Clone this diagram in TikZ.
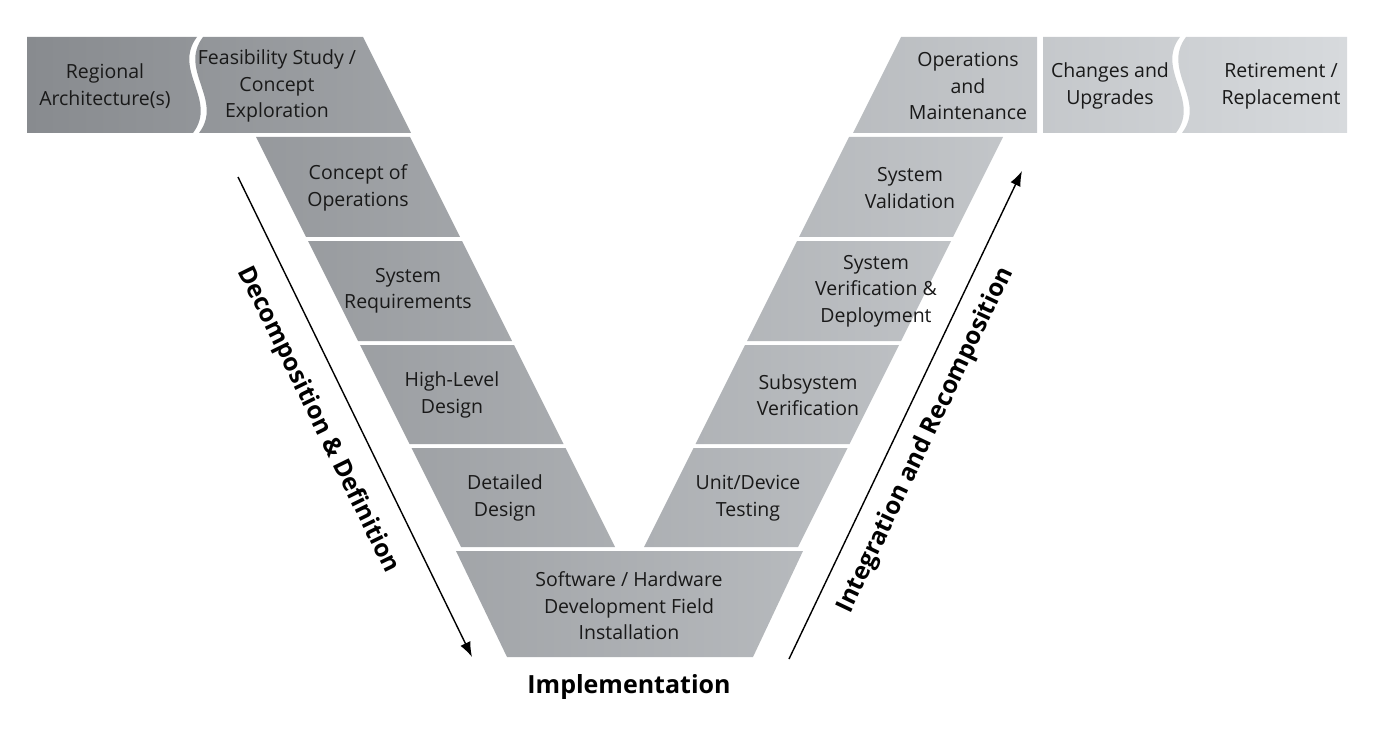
\documentclass[tikz,border=0pt]{standalone}
\usepackage{fontspec}
\setmainfont{Open Sans}
\usetikzlibrary{arrows.meta}
\begin{document}
\begin{tikzpicture}[x=1pt,y=-1pt,
  lbl/.style={align=center,font=\fontsize{19.5}{26.5}\selectfont,text=black!90},
  big/.style={font=\fontsize{24.5}{28}\selectfont\bfseries},
  arr/.style={-{Latex[length=15pt,width=11pt]},line width=1.4pt}]
\useasboundingbox (0,0) rectangle (1392,738);
\def\band#1#2{%
  (256+0.5*#1-68.5,#1) -- (410+0.5*#1-68.5,#1) -- (410+0.5*#2-68.5,#2) -- (256+0.5*#2-68.5,#2) -- cycle
  (1259-410-0.5*#1+68.5,#1) -- (1259-256-0.5*#1+68.5,#1) -- (1259-256-0.5*#2+68.5,#2) -- (1259-410-0.5*#2+68.5,#2) -- cycle}
\begin{scope}
\clip (27,37) -- (197,37) .. controls (172,70) and (218,100) .. (193,133) -- (27,133) -- cycle
      (203,37) -- (363,37) -- (411,133) -- (199,133) .. controls (224,100) and (178,70) .. (203,37) -- cycle
      (901,37) -- (1037,37) -- (1037,133) -- (853,133) -- cycle
      (1043,37) -- (1180,37) .. controls (1155,70) and (1201,100) .. (1176,133) -- (1043,133) -- cycle
      (1186,37) -- (1347,37) -- (1347,133) -- (1182,133) .. controls (1207,100) and (1161,70) .. (1186,37) -- cycle
      \band{137}{237} \band{241}{341} \band{345}{444} \band{448}{547}
      (456,551) -- (803,551) -- (753,657) -- (507,657) -- cycle;
\shade[left color={rgb,255:red,136;green,139;blue,143}, right color={rgb,255:red,215;green,218;blue,221}] (27,30) rectangle (1347,660);
\end{scope}
\node[lbl] (reg) at (105,86) {Regional\\Architecture(s)};
\node[lbl] (fea) at (277,86) {Feasibility Study /\\Concept\\Exploration};
\node[lbl] (con) at (358,188) {Concept of\\Operations};
\node[lbl] (req) at (408,291) {System\\Requirements};
\node[lbl] (hld) at (452,395) {High-Level\\Design};
\node[lbl] (det) at (505,498) {Detailed\\Design};
\node[lbl] (sw) at (629,606) {Software / Hardware\\Development Field\\Installation};
\node[lbl] (unit) at (748,498) {Unit/Device\\Testing};
\node[lbl] (sub) at (808,395) {Subsystem\\Verification};
\node[lbl] (ver) at (876,291) {System\\Verification \&\\Deployment};
\node[lbl] (val) at (910,188) {System\\Validation};
\node[lbl] (ops) at (968,86) {Operations\\and\\Maintenance};
\node[lbl] (chg) at (1110,86) {Changes and\\Upgrades};
\node[lbl] (ret) at (1281,86) {Retirement /\\Replacement};
\coordinate (a1) at (238,177); \coordinate (a2) at (472,657);
\coordinate (b1) at (789,659); \coordinate (b2) at (1022,171);
\draw[arr] (a1) -- (a2);
\draw[arr] (b1) -- (b2);
\node[big,rotate=-63.9] (dec) at (318,420) {Decomposition \& Definition};
\node[big,rotate=64.6] (int) at (926,440) {Integration and Recomposition};
\node[big,font=\fontsize{25}{28}\selectfont\bfseries] (imp) at (629,687) {Implementation};
\end{tikzpicture}
\end{document}
